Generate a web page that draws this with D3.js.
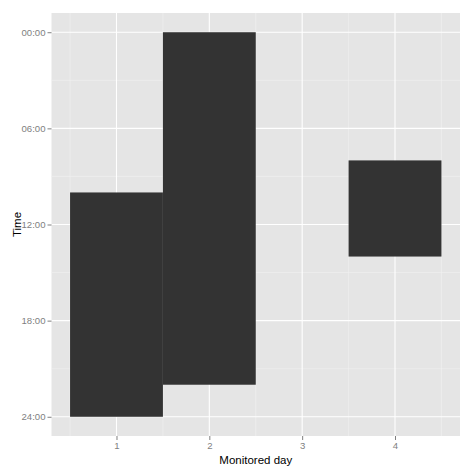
<!DOCTYPE html>
<html>
<head>
<meta charset="utf-8">
<script src="https://cdn.jsdelivr.net/npm/d3@7"></script>
<style>
  body { margin: 0; background: #fff; }
  svg { display: block; font-family: "Liberation Sans", Arial, sans-serif; }
</style>
</head>
<body>
<svg id="chart" width="474" height="474"></svg>
<script>
// monitored periods, hours from midnight (0 = 00:00, 24 = 24:00)
const days = [1, 2, 4];
const startHours = [10, 0, 8];
const endHours = [24, 22, 14];

const xTicks = [1, 2, 3, 4];
const yTicks = [0, 6, 12, 18, 24];
const yTickLabels = ["00:00", "06:00", "12:00", "18:00", "24:00"];

const svg = d3.select("#chart");
const panel = { left: 51.5, right: 460, top: 13, bottom: 436 };

// ggplot-like 5% expansion around the data range
const x = d3.scaleLinear().domain([0.3, 4.7]).range([panel.left, panel.right]);
const y = d3.scaleLinear().domain([-1.2, 25.2]).range([panel.top, panel.bottom]);

svg.append("rect")
   .attr("x", panel.left)
   .attr("y", panel.top)
   .attr("width", panel.right - panel.left)
   .attr("height", panel.bottom - panel.top)
   .attr("fill", "#e5e5e5");

// minor grid
const g = svg.append("g");
g.selectAll(".yminor")
 .data([3, 9, 15, 21])
 .enter()
 .append("line")
 .attr("x1", panel.left).attr("x2", panel.right)
 .attr("y1", d => y(d)).attr("y2", d => y(d))
 .attr("stroke", "#f2f2f2").attr("stroke-width", 0.6);
g.selectAll(".xminor")
 .data([0.5, 1.5, 2.5, 3.5, 4.5])
 .enter()
 .append("line")
 .attr("y1", panel.top).attr("y2", panel.bottom)
 .attr("x1", d => x(d)).attr("x2", d => x(d))
 .attr("stroke", "#f2f2f2").attr("stroke-width", 0.6);

// major grid
g.selectAll(".ymajor")
 .data(yTicks)
 .enter()
 .append("line")
 .attr("x1", panel.left).attr("x2", panel.right)
 .attr("y1", d => y(d)).attr("y2", d => y(d))
 .attr("stroke", "#fff").attr("stroke-width", 1.1);
g.selectAll(".xmajor")
 .data(xTicks)
 .enter()
 .append("line")
 .attr("y1", panel.top).attr("y2", panel.bottom)
 .attr("x1", d => x(d)).attr("x2", d => x(d))
 .attr("stroke", "#fff").attr("stroke-width", 1.1);

// bars
svg.append("g")
   .selectAll("rect")
   .data(days.map((d, i) => ({ day: d, start: startHours[i], end: endHours[i] })))
   .enter()
   .append("rect")
   .attr("x", d => x(d.day - 0.5))
   .attr("width", d => x(d.day + 0.5) - x(d.day - 0.5))
   .attr("y", d => y(d.start))
   .attr("height", d => y(d.end) - y(d.start))
   .attr("fill", "#333333");

// axes
const xAxis = d3.axisBottom(x).tickValues(xTicks).tickFormat(d3.format("d")).tickSize(4).tickPadding(2);
const yAxis = d3.axisLeft(y).tickValues(yTicks).tickFormat((d, i) => yTickLabels[i]).tickSize(4).tickPadding(2);

const xa = svg.append("g").attr("transform", `translate(0,${panel.bottom})`).call(xAxis);
const ya = svg.append("g").attr("transform", `translate(${panel.left},0)`).call(yAxis);
[xa, ya].forEach(a => {
  a.select(".domain").remove();
  a.selectAll(".tick line").attr("stroke", "#7f7f7f");
  a.selectAll(".tick text").attr("fill", "#7f7f7f").style("font-size", "9.6px");
});

svg.append("text")
   .attr("x", (panel.left + panel.right) / 2)
   .attr("y", 464)
   .attr("text-anchor", "middle")
   .style("font-size", "11.5px")
   .text("Monitored day");

svg.append("text")
   .attr("transform", `translate(21,${(panel.top + panel.bottom) / 2}) rotate(-90)`)
   .attr("text-anchor", "middle")
   .style("font-size", "11.5px")
   .text("Time");
</script>
</body>
</html>
